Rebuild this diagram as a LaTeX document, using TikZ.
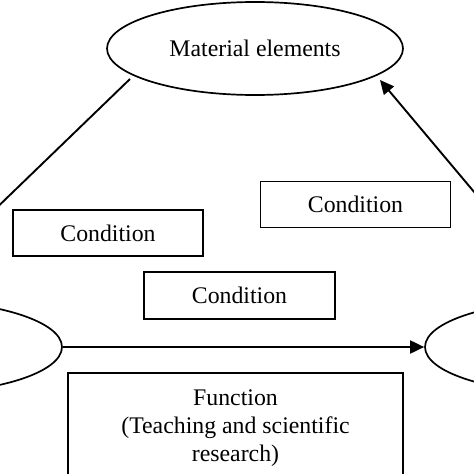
\documentclass[tikz,border=0pt]{standalone}
\usepackage{fontspec}
\setmainfont{Liberation Serif}
\usetikzlibrary{shapes.geometric,arrows.meta}
\begin{document}
\begin{tikzpicture}[x=1pt,y=-1pt,
  every node/.style={font=\fontsize{23.8}{28}\selectfont},
  ell/.style={draw, ellipse, line width=1.7pt, minimum width=296pt, minimum height=93pt, inner sep=0pt},
  box/.style={draw, rectangle, line width=1.7pt, inner sep=0pt},
  conn/.style={line width=1.9pt},
  arr/.style={conn, -{Triangle[length=14pt,width=13pt]}}]
\useasboundingbox (0,0) rectangle (474,474);
\fill[white] (0,0) rectangle (474,474);
\clip (0,0) rectangle (474,474);
\node[ell] (T) at (255,48.5) {Material elements};
\node[ell] (L) at (-86,347) {};
\node[ell] (R) at (573,347) {};
\node[box, minimum width=190pt, minimum height=46pt] (c1) at (355.5,204.5) {Condition};
\node[box, minimum width=190pt, minimum height=46pt] (c2) at (108,233) {Condition};
\node[box, minimum width=191pt, minimum height=47pt] (c3) at (239.5,295.5) {Condition};
\node[box, minimum width=335pt, minimum height=110pt, align=center] (f) at (235.5,428) {Function\\(Teaching and scientific\\research)};
\coordinate (t1) at (380,80);
\coordinate (t2) at (130,79);
\draw[arr] (R.100) -- (t1);
\draw[conn] (L.105) -- (t2);
\draw[arr] (L.east) -- (R.west);
\end{tikzpicture}
\end{document}
